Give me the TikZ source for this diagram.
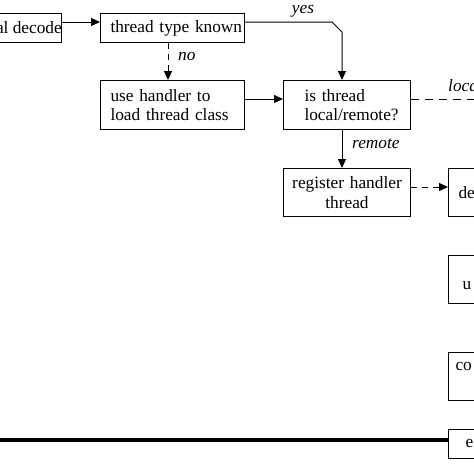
\documentclass[tikz,border=0pt]{standalone}
\usepackage{fontspec}
\setmainfont{Liberation Serif}
\usetikzlibrary{arrows.meta}
\begin{document}
\begin{tikzpicture}[x=1pt,y=-1pt,
  box/.style={draw,line width=1pt,anchor=north west,inner ysep=0pt,font=\fontsize{17.3}{19.5}\selectfont},
  lbox/.style={box,align=left},
  cbox/.style={box,align=center},
  arr/.style={line width=1pt,-{Triangle[length=9pt,width=8pt]}},
  dsh/.style={arr,dash pattern=on 6pt off 5pt},
  lab/.style={font=\fontsize{17.3}{19.5}\selectfont\itshape,inner sep=0pt}]
\useasboundingbox (0,0) rectangle (474,474);
\clip (0,0) rectangle (474,474);
% boxes
\node[box,minimum width=121pt,minimum height=29pt,inner xsep=0pt] (dec) at (-60,13) {};
\node[anchor=east,inner sep=0pt,font=\fontsize{17.3}{19.5}\selectfont] (dect) at (62,28) {al decode};
\node[lbox,minimum width=144pt,minimum height=29pt,inner xsep=10pt,text width=124pt] (ttk) at (100,13) {\mbox{thread type known}};
\node[lbox,minimum width=144pt,minimum height=49pt,inner xsep=10pt,text width=124pt] (uh) at (100,80) {use handler to\\load thread class};
\node[lbox,minimum width=127pt,minimum height=49pt,inner xsep=21pt,text width=85pt] (it) at (283,80) {is thread\\local/remote?};
\node[cbox,minimum width=127pt,minimum height=48pt,inner xsep=4pt,text width=119pt] (reg) at (283,168) {register handler\\thread};
\node[lbox,minimum width=60pt,minimum height=48pt,inner xsep=10pt,text width=40pt] (de) at (448,168) {de};
\node[lbox,minimum width=60pt,minimum height=48pt,inner xsep=14pt,text width=32pt] (u) at (448,255) {\mbox{}\\u};
\node[lbox,minimum width=60pt,minimum height=48pt,inner xsep=7pt,text width=46pt] (co) at (448,352) {co\\\mbox{}};
\node[lbox,minimum width=60pt,minimum height=29pt,inner xsep=17pt,text width=26pt] (e) at (448,429) {e};
% connectors
\draw[arr] (dec.east |- 0,22) -- (ttk.west |- 0,22);
\coordinate (y1) at (332,22);
\coordinate (y2) at (342,32);
\draw[arr] (ttk.east |- 0,22) -- (y1) -- (y2) -- (y2 |- it.north);
\node[lab,anchor=base] at (303,13) {yes};
\draw[dsh] (168,0 |- ttk.south) -- (168,0 |- uh.north);
\node[lab,anchor=west] at (178,57) {no};
\draw[arr] (uh.east |- 0,99) -- (it.west |- 0,99);
\coordinate (loc) at (474,99);
\draw[line width=1pt,dash pattern=on 8pt off 6pt] (it.east |- 0,99) -- (loc);
\node[lab,anchor=west] at (448,86) {local};
\draw[arr] (342,0 |- it.south) -- (342,0 |- reg.north);
\node[lab,anchor=west] at (352,144) {remote};
\draw[dsh] (reg.east |- 0,187) -- (de.west |- 0,187);
\coordinate (lft) at (0,440);
\draw[line width=4pt] (lft) -- (e.west |- lft);
\end{tikzpicture}
\end{document}
